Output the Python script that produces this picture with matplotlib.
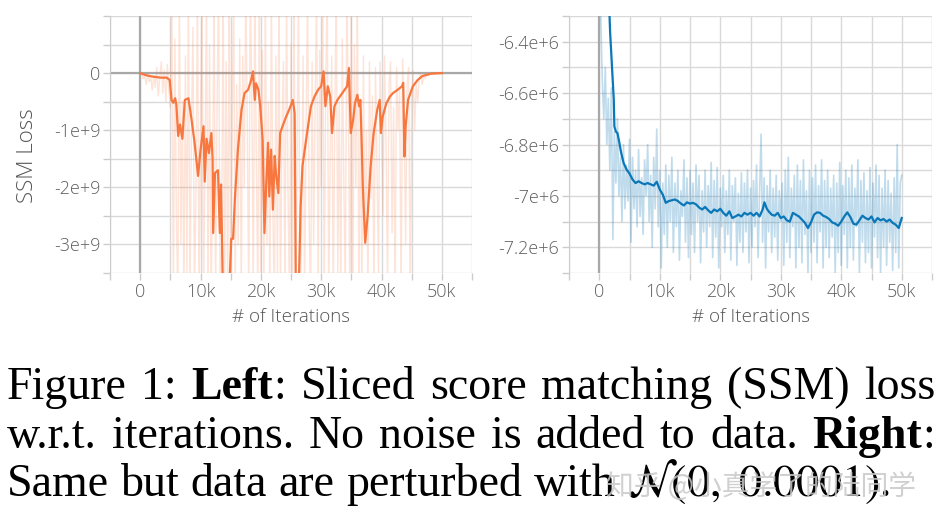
import matplotlib
matplotlib.use('Agg')
import matplotlib.pyplot as plt
import numpy as np

# ---- left panel: SSM loss, no noise (units: iterations in k, loss in 1e9)
LEFT_SMOOTH_IT = [0.0, 0.5, 1.1, 2.0, 2.7, 3.5, 4.4, 4.9, 5.2, 5.5, 5.8, 6.0, 6.3, 6.6, 7.0,
                  7.4, 8.0, 8.5, 9.0, 9.6, 10.0, 10.5, 10.7, 11.0, 11.4, 11.8, 12.0, 12.1,
                  12.4, 12.9, 13.2, 13.4, 13.7, 14.0, 14.8, 15.1, 15.4, 15.7, 16.2, 16.8,
                  17.3, 17.9, 18.4, 18.7, 19.0, 19.2, 19.6, 19.9, 20.3, 20.6, 20.9, 21.2,
                  21.4, 21.7, 22.0, 22.3, 22.5, 22.9, 23.2, 23.6, 24.2, 24.7, 25.3, 25.6,
                  25.8, 26.3, 26.6, 26.9, 27.5, 28.3, 28.9, 29.5, 30.0, 30.4, 30.7, 31.1,
                  31.5, 31.8, 32.2, 32.7, 33.5, 34.3, 34.6, 34.9, 35.3, 35.6, 36.0, 36.3,
                  36.5, 36.7, 36.9, 37.3, 37.7, 38.2, 38.7, 39.3, 39.7, 39.9, 40.2, 40.8,
                  41.4, 41.9, 42.7, 43.4, 43.6, 43.8, 44.0, 44.4, 45.2, 46.0, 46.8, 48.2,
                  50.0]
LEFT_SMOOTH_VAL = [0.0, -0.02, -0.04, -0.06, -0.07, -0.08, -0.08, -0.12, -0.47, -0.52, -0.44,
                   -0.55, -1.10, -0.90, -1.15, -0.47, -0.44, -0.80, -1.20, -1.80, -1.35, -0.93,
                   -1.90, -1.15, -1.40, -1.05, -1.50, -2.80, -1.75, -1.70, -2.80, -1.95, -3.70,
                   -3.90, -3.70, -2.90, -2.90, -2.20, -1.34, -0.64, -0.35, -0.29, -0.12, 0.03,
                   -0.47, -0.18, -0.29, -0.58, -1.17, -2.80, -1.92, -1.22, -2.16, -1.34, -2.39,
                   -1.45, -1.75, -2.10, -1.05, -0.93, -0.76, -0.64, -0.47, -0.70, -3.80, -3.70,
                   -2.33, -1.63, -1.17, -0.58, -0.41, -0.29, -0.23, 0.03, -0.58, -0.23, -0.41,
                   -1.05, -0.58, -0.47, -0.35, -0.23, 0.09, -1.05, -0.82, -0.53, -0.38, -0.58,
                   -0.47, -1.17, -1.98, -2.97, -2.50, -1.63, -1.05, -0.64, -0.47, -1.05, -0.76,
                   -0.53, -0.41, -0.35, -0.29, -0.23, -0.17, -1.46, -0.93, -0.47, -0.23, -0.12,
                   -0.05, -0.01, 0.0]

# raw (un-smoothed) values, one every 250 iterations from 0.25k to 50k
LEFT_RAW = [
    -0.02, -0.10, -0.05, -0.20, 0.00, -0.15, -0.08, -0.30, -0.05, -0.25,
    0.10, -0.40, -0.08, 0.20, -0.35, 0.05, -0.50, 0.15, -0.30, -0.60,
    1.50, -4.00, 0.60, -2.50, -4.00, 1.50, -3.00, -0.50, -4.00, 0.30,
    -3.50, 1.50, -4.00, -1.00, 0.80, -4.00, -2.00, 1.50, -4.00, -0.80,
    1.50, -4.00, -1.50, 1.50, -4.00, 0.50, -4.00, -2.00, 1.50, -4.00,
    -0.50, 1.50, -4.00, -3.00, 1.50, -4.00, 0.20, -4.00, 1.50, -4.00,
    -1.00, 1.50, -4.00, -0.20, -3.00, 0.60, -4.00, 0.30, -2.00, 1.50,
    -0.80, -4.00, 1.50, -0.30, -4.00, 1.50, -1.50, -4.00, 1.50, -4.00,
    0.40, -4.00, 1.50, -3.00, -0.50, -4.00, 1.50, -2.50, -4.00, 0.30,
    -3.50, 1.50, -4.00, -1.00, 0.20, -4.00, 1.50, -2.00, -4.00, 0.50,
    -4.00, 1.50, -4.00, -1.50, 1.50, -4.00, -3.00, 0.30, -4.00, -1.00,
    1.50, -2.50, -4.00, 0.20, -3.00, -0.50, 1.50, -4.00, 0.40, -2.00,
    1.50, -4.00, -0.30, 1.50, -4.00, -1.50, 0.30, -4.00, -0.80, 1.50,
    -3.50, -0.50, -4.00, 0.60, -1.80, -4.00, 1.50, -0.50, -4.00, 1.50,
    -4.00, 0.50, -2.00, 1.50, -4.00, -0.60, -4.00, 0.30, -3.00, -1.00,
    -4.00, 0.20, -2.20, -0.40, -4.00, 0.10, -1.60, -3.50, 0.20, -0.90,
    -2.50, 0.30, -1.20, -3.80, -0.20, 0.20, -2.80, -0.60, -4.00, 0.10,
    -1.00, -0.30, -4.00, 0.25, -0.80, -3.00, -0.20, 0.10, -4.00, -0.50,
    0.05, -1.00, -0.20, -0.50, -0.10, 0.00, -0.20, -0.05, -0.10, 0.00,
    -0.05, 0.00, -0.02, 0.00, -0.01, 0.00, 0.00, 0.00, 0.00, 0.00,
]

# ---- right panel: data perturbed with noise (loss in 1e6)
RIGHT_SMOOTH_IT = [0.5, 1.0, 1.5, 1.7, 1.8, 2.1, 2.4, 2.5, 2.75, 3.0, 3.3, 3.6, 4.0, 4.5,
                   5.0, 5.5, 6.0, 6.5, 7.0, 7.5, 8.0, 8.5, 9.0, 9.5, 10.0, 10.5, 11.0, 11.5,
                   12.0, 12.5, 13.0, 13.5, 14.0, 14.5, 15.0, 15.5, 16.0, 16.5, 17.0, 17.5,
                   18.0, 18.5, 19.0, 19.5, 20.0, 20.5, 21.0, 21.5, 22.0, 22.5, 23.0, 23.5,
                   24.0, 24.5, 25.0, 25.5, 26.0, 26.5, 27.0, 27.3, 27.7, 28.0, 28.5, 29.0,
                   29.5, 30.0, 30.5, 31.0, 31.5, 32.0, 32.5, 33.0, 33.5, 34.0, 34.5, 35.0,
                   35.5, 36.0, 36.5, 37.0, 37.5, 38.0, 38.5, 39.0, 39.5, 40.0, 40.5, 41.0,
                   41.5, 42.0, 42.5, 43.0, 43.5, 44.0, 44.5, 45.0, 45.5, 46.0, 46.5, 47.0,
                   47.5, 48.0, 48.5, 49.0, 49.5, 50.0]
RIGHT_SMOOTH_VAL = [-5.60, -5.95, -6.20, -6.30, -6.365, -6.495, -6.625, -6.73, -6.75, -6.755,
                    -6.79, -6.83, -6.87, -6.897, -6.913, -6.936, -6.95, -6.943, -6.95, -6.955,
                    -6.95, -6.955, -6.96, -6.945, -6.975, -6.995, -7.027, -7.02, -7.017,
                    -7.014, -7.02, -7.03, -7.037, -7.025, -7.03, -7.027, -7.033, -7.045,
                    -7.053, -7.043, -7.056, -7.066, -7.053, -7.06, -7.05, -7.066, -7.077,
                    -7.06, -7.086, -7.08, -7.073, -7.08, -7.066, -7.073, -7.066, -7.077,
                    -7.066, -7.08, -7.053, -7.025, -7.05, -7.06, -7.073, -7.077, -7.066,
                    -7.086, -7.08, -7.095, -7.10, -7.066, -7.073, -7.08, -7.092, -7.105,
                    -7.125, -7.103, -7.073, -7.064, -7.066, -7.077, -7.082, -7.09, -7.103,
                    -7.108, -7.116, -7.10, -7.08, -7.064, -7.082, -7.108, -7.112, -7.095,
                    -7.077, -7.086, -7.092, -7.08, -7.103, -7.086, -7.095, -7.09, -7.10,
                    -7.092, -7.105, -7.112, -7.125, -7.086]

RIGHT_RAW = [
    -6.30, -6.55, -6.70, -6.50, -6.80, -6.62, -6.90, -6.58, -7.17, -6.75,
    -6.95, -6.70, -7.00, -6.85, -7.10, -6.80, -7.05, -6.88, -7.02, -6.78,
    -7.18, -6.85, -7.05, -6.90, -7.12, -6.82, -7.08, -6.93, -7.15, -6.86,
    -7.00, -6.80, -7.10, -6.92, -7.20, -6.85, -7.05, -6.74, -7.12, -6.90,
    -7.28, -6.95, -7.15, -6.88, -7.20, -6.92, -7.10, -6.85, -7.22, -6.95,
    -7.12, -6.90, -7.25, -6.98, -7.08, -6.86, -7.18, -6.93, -7.24, -6.90,
    -7.15, -6.95, -7.22, -6.88, -7.10, -6.92, -7.26, -6.98, -7.14, -6.90,
    -7.20, -6.96, -7.12, -6.87, -7.24, -6.94, -7.16, -6.89, -7.28, -6.97,
    -7.12, -6.92, -7.22, -6.98, -7.15, -6.90, -7.25, -6.96, -7.10, -6.93,
    -7.27, -6.99, -7.18, -6.91, -7.22, -6.95, -7.14, -6.90, -7.26, -6.97,
    -7.20, -6.94, -7.12, -6.88, -7.24, -6.99, -6.76, -7.18, -6.93, -7.28,
    -6.96, -7.14, -6.90, -7.22, -6.97, -7.16, -6.92, -7.25, -6.98, -7.10,
    -6.95, -7.27, -6.90, -7.18, -6.85, -7.24, -6.97, -7.12, -6.92, -7.28,
    -6.88, -7.20, -6.94, -7.26, -6.86, -7.15, -6.98, -7.30, -6.90, -7.22,
    -6.93, -7.18, -6.88, -7.26, -6.96, -7.14, -6.86, -7.28, -6.94, -7.20,
    -6.90, -7.24, -6.97, -7.16, -6.92, -7.30, -6.95, -7.22, -6.87, -7.27,
    -6.96, -7.15, -6.90, -7.28, -6.93, -7.20, -6.88, -7.25, -6.97, -7.12,
    -6.86, -7.30, -6.94, -7.18, -6.91, -7.26, -6.98, -7.22, -6.89, -7.28,
    -6.95, -7.16, -6.88, -7.24, -6.92, -7.30, -6.97, -7.20, -6.90, -7.27,
    -6.94, -7.18, -6.99, -7.29, -6.93, -7.22, -6.80, -7.28, -6.95, -6.92,
]
RAW_IT = [0.25 * (i + 1) for i in range(200)]

X_TICKS = [-5, 0, 5, 10, 15, 20, 25, 30, 35, 40, 45, 50, 55]
X_LABELS = ['', '0', '', '10k', '', '20k', '', '30k', '', '40k', '', '50k', '']
LEFT_Y_TICKS = [-3.5, -3.0, -2.5, -2.0, -1.5, -1.0, -0.5, 0.0, 0.5, 1.0]
LEFT_Y_LABELS = ['', '-3e+9', '', '-2e+9', '', '-1e+9', '', '0', '', '']
RIGHT_Y_TICKS = [-7.3, -7.2, -7.1, -7.0, -6.9, -6.8, -6.7, -6.6, -6.5, -6.4, -6.3]
RIGHT_Y_LABELS = ['', '-7.2e+6', '', '-7e+6', '', '-6.8e+6', '', '-6.6e+6', '', '-6.4e+6', '']

# (text, bold, preceded by a space); lines 1-2 are justified like the paper
CAPTION = [
    [('Figure 1:', False, False), ('Left', True, True), (':', False, False),
     ('Sliced score matching (SSM) loss', False, True)],
    [('w.r.t. iterations. No noise is added to data.', False, False), ('Right', True, True),
     (':', False, False)],
    [('Same but data are perturbed with', False, False),
     (r'$\mathcal{N}(0,\ 0.0001)$.', False, True)],
]
CAPTION_Y = [399, 448, 496]
CAPTION_JUSTIFY = [True, True, False]
WATERMARK = '知乎 @小真学了的陆同学'

ORANGE = '#f7773f'
BLUE = '#0a77b8'
GRID = '#d9d9d9'
TICK_TXT = '#5f5f5f'
SANS = ['Open Sans', 'DejaVu Sans']

plt.rcParams['font.family'] = SANS
plt.rcParams['mathtext.fontset'] = 'stix'


def style_axes(ax, yticks, ylabels):
    ax.set_xlim(-5, 55)
    ax.set_ylim(yticks[0], yticks[-1])
    ax.set_xticks(X_TICKS)
    ax.set_xticklabels(X_LABELS)
    ax.set_yticks(yticks)
    ax.set_yticklabels(ylabels)
    ax.grid(True, color=GRID, lw=1.0)
    ax.set_axisbelow(True)
    for s in ['top', 'right', 'bottom']:
        ax.spines[s].set_visible(False)
    ax.spines['left'].set_color('#cccccc')
    ax.tick_params(axis='both', colors='#cccccc', labelcolor=TICK_TXT, length=5,
                   width=1.0, labelsize=13, pad=2)
    for lab in ax.get_xticklabels() + ax.get_yticklabels():
        lab.set_fontweight('light')
    ax.axvline(0, color='#a8a8a8', lw=1.6, zorder=1.5)
    ax.set_xlabel('# of Iterations', fontsize=13.5, color='#555555', fontweight='light',
                  labelpad=5)


fig = plt.figure(figsize=(9.42, 5.17), dpi=100)
axL = fig.add_axes([110 / 942, 1 - 273 / 517, 362 / 942, 257 / 517])
axR = fig.add_axes([569 / 942, 1 - 273 / 517, 363 / 942, 257 / 517])

style_axes(axL, LEFT_Y_TICKS, LEFT_Y_LABELS)
axL.axhline(0, color='#a8a8a8', lw=1.6, zorder=1.5)
axL.plot(RAW_IT, LEFT_RAW, color=ORANGE, alpha=0.2, lw=1.0, zorder=2)
axL.plot(LEFT_SMOOTH_IT, LEFT_SMOOTH_VAL, color=ORANGE, lw=1.6, zorder=3)
axL.set_ylabel('SSM Loss', fontsize=16, color='#555555', fontweight='light')
axL.yaxis.set_label_coords(-0.20, 0.455)

style_axes(axR, RIGHT_Y_TICKS, RIGHT_Y_LABELS)
axR.plot(RAW_IT, RIGHT_RAW, color=BLUE, alpha=0.26, lw=1.2, zorder=2)
axR.plot(RIGHT_SMOOTH_IT, RIGHT_SMOOTH_VAL, color=BLUE, lw=1.6, zorder=3)

# caption: one text per word so bold words sit inline and lines can be justified
renderer = fig.canvas.get_renderer()
cap_size = 33
space_px = 0.25 * cap_size * fig.dpi / 72
x_left, x_right = 7, 935
for line, y_px, justify in zip(CAPTION, CAPTION_Y, CAPTION_JUSTIFY):
    tokens = []
    for text, bold, lead in line:
        for i, word in enumerate(text.split(' ') if not text.startswith('$') else [text]):
            tokens.append((word, bold, lead if i == 0 else True))
    arts, widths = [], []
    for word, bold, lead in tokens:
        t = fig.text(0, 1 - y_px / 517, word, fontsize=cap_size, family='Liberation Serif',
                     fontweight='bold' if bold else 'normal', va='baseline', ha='left',
                     color='black')
        arts.append(t)
        widths.append(t.get_window_extent(renderer=renderer).width)
    n_gaps = sum(1 for tok in tokens[1:] if tok[2])
    gap = space_px
    if justify and n_gaps:
        gap = (x_right - x_left - sum(widths)) / n_gaps
    x_px = x_left
    for k, (t, w, tok) in enumerate(zip(arts, widths, tokens)):
        if k > 0 and tok[2]:
            x_px += gap
        t.set_x(x_px / 942)
        x_px += w

fig.text(606 / 942, 1 - 495 / 517, WATERMARK, fontsize=20,
         family=['Noto Sans CJK SC', 'DejaVu Sans'], color='#c8c8c8', alpha=0.85,
         va='baseline', ha='left')

fig.savefig('out.png', dpi=100)
